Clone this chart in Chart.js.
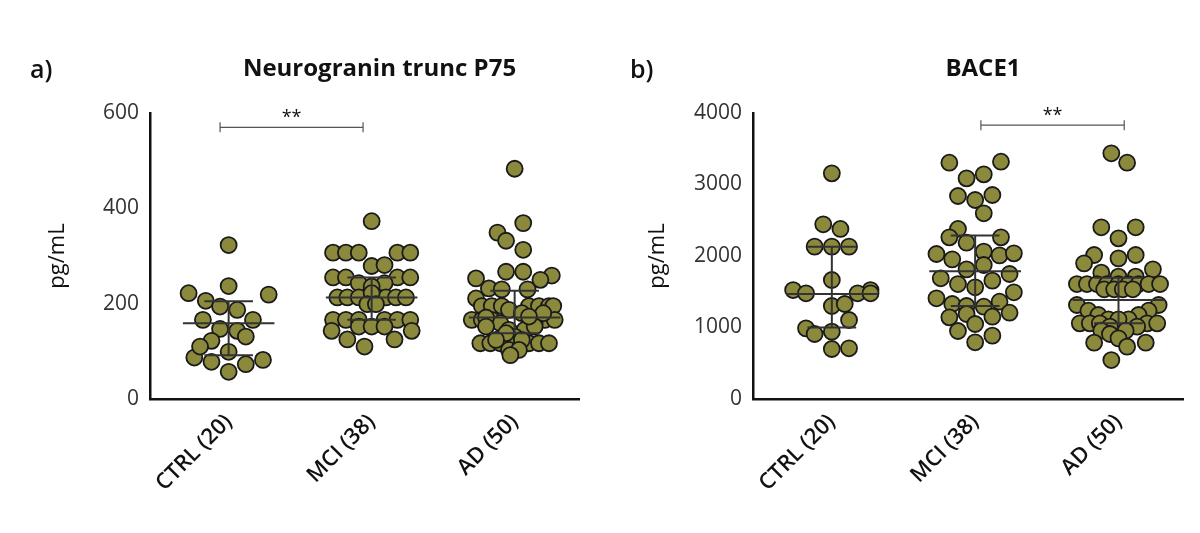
<!DOCTYPE html>
<html><head><meta charset="utf-8">
<script src="https://cdn.jsdelivr.net/npm/chart.js@4"></script>
<style>body{margin:0;background:#fff;width:1200px;height:533px;position:relative;overflow:hidden;font-family:"Open Sans",sans-serif}
.p{position:absolute;top:0;width:600px;height:533px}</style></head><body>
<div class="p" style="left:0"><canvas id="a"></canvas></div>
<div class="p" style="left:600px"><canvas id="b"></canvas></div>
<script>
const categories = ["CTRL (20)", "MCI (38)", "AD (50)"];
// Panel a: Neurogranin trunc P75 (pg/mL)
const aCtrlY  = [323,222,237,219,206,194,187,166,166,143,147,122,131,87,78,99,73,82,57,110];
const aCtrlDx = [0,-.28,0,.28,-.16,-.06,.06,.17,-.18,.06,-.06,-.12,.12,-.24,-.12,0,.12,.24,0,-.2];
const aMciY  = [373,307,307,307,307,307,279,281,255,255,255,255,243,243,236,213,213,213,213,213,213,222,199,199,166,166,166,166,166,166,152,152,152,143,143,125,125,110];
const aMciDx = [0,-.27,-.18,-.09,.18,.27,0,.09,-.27,-.18,.18,.27,-.09,.09,0,-.24,-.17,-.09,.1,.17,.24,0,-.03,.03,-.27,-.18,-.09,.09,.18,.27,-.09,0,.09,-.28,.28,-.17,.16,-.05];
const aAdY  = [483,369,349,332,313,267,267,259,253,250,232,230,230,211,195,195,195,195,195,195,195,187,180,166,166,166,166,166,159,159,145,145,131,117,117,117,117,117,117,124,103,103,92,171,180,152,138,152,173,124];
const aAdDx = [0,.06,-.12,-.06,.06,-.06,.06,.26,-.27,.18,-.18,.09,-.09,-.27,-.23,-.16,-.09,.1,.17,.24,.27,-.04,.05,-.3,-.23,-.16,.21,.28,-.1,.14,-.04,.07,0,-.24,-.17,-.1,.1,.17,.24,.05,-.04,.03,-.03,-.2,.2,-.2,-.06,.14,.1,-.13];
const aMedian = [159,213,171], aQ1 = [92,166,138], aQ3 = [205,255,227];
// Panel b: BACE1 (pg/mL)
const bCtrlY  = [3156,2443,2378,2131,2131,2131,1664,1524,1524,1478,1478,1478,1301,1329,1105,988,909,942,699,709];
const bCtrlDx = [0,-.06,.06,-.12,0,.12,0,-.27,.27,-.18,.18,.27,0,.09,.12,-.18,-.12,0,0,.12];
const bMciY  = [3305,3319,3086,3142,2839,2853,2783,2597,2378,2261,2261,2186,2061,2028,2009,2037,1953,1874,1813,1748,1688,1608,1655,1562,1492,1408,1361,1329,1301,1291,1142,1207,1189,1151,1049,951,886,793];
const bMciDx = [-.18,.18,-.06,.06,-.12,.12,0,.06,-.12,-.18,.18,-.06,.06,-.27,.17,.27,-.16,.06,-.06,.24,-.24,-.12,.12,0,.27,-.27,.17,-.16,-.06,.06,-.18,.24,-.06,.12,0,-.12,.12,0];
const bAdY  = [3436,3305,2401,2401,2247,2014,2014,1967,1897,1813,1767,1711,1711,1608,1608,1608,1608,1608,1608,1608,1608,1608,1534,1534,1534,1534,1315,1315,1235,1235,1175,1175,1114,1114,1114,1058,1058,1058,1058,1058,1012,1012,956,956,909,848,788,788,732,545];
const bAdDx = [-.05,.06,-.12,.12,0,-.17,.12,0,-.24,.24,-.12,0,.12,-.29,-.22,-.15,-.08,0,.07,.14,.21,.29,-.1,-.03,.03,.1,-.29,.28,-.21,.21,-.14,.14,-.07,.07,0,-.27,-.2,-.13,.2,.27,-.06,.13,-.12,.05,-.06,0,-.17,.19,.06,-.05];
const bMedian = [1470,1786,1385], bQ1 = [1000,1300,1058], bQ3 = [2130,2285,1697];

const pts = (c, ys, dxs) => ys.map((y,i)=>({x:c+dxs[i], y}));
const FILL='#8b8a3c';
function make(id, title, letter, sets, med, q1, q3, ymax, step, yw, pr, sig){
  const deco = {id:'deco', afterDatasetsDraw(ch){
    const {ctx, scales:{x,y}} = ch;
    ctx.save(); ctx.strokeStyle='#333'; ctx.lineWidth=2;
    for(let i=0;i<3;i++){
      const c=i+1;
      ctx.beginPath();
      ctx.moveTo(x.getPixelForValue(c-.32), y.getPixelForValue(med[i])); ctx.lineTo(x.getPixelForValue(c+.32), y.getPixelForValue(med[i]));
      ctx.moveTo(x.getPixelForValue(c), y.getPixelForValue(q1[i])); ctx.lineTo(x.getPixelForValue(c), y.getPixelForValue(q3[i]));
      for(const v of [q1[i],q3[i]]){ctx.moveTo(x.getPixelForValue(c-.17), y.getPixelForValue(v)); ctx.lineTo(x.getPixelForValue(c+.17), y.getPixelForValue(v));}
      ctx.stroke();
    }
    ctx.strokeStyle='#555'; ctx.lineWidth=1.2;
    const x1=x.getPixelForValue(sig[0]), x2=x.getPixelForValue(sig[1]), yy=y.getPixelForValue(sig[2]);
    ctx.beginPath(); ctx.moveTo(x1,yy); ctx.lineTo(x2,yy); ctx.moveTo(x1,yy-5); ctx.lineTo(x1,yy+5); ctx.moveTo(x2,yy-5); ctx.lineTo(x2,yy+5); ctx.stroke();
    ctx.fillStyle='#111'; ctx.font='18px "Open Sans"'; ctx.textAlign='center'; ctx.fillText('**',(x1+x2)/2,yy-4);
    ctx.font='bold 24px "Open Sans"'; ctx.fillText(title,(x.left+x.right)/2+15,76);
    ctx.textAlign='left'; ctx.font='600 25px "Open Sans"'; ctx.fillText(letter,30,78);
    ctx.translate(64,256); ctx.rotate(-Math.PI/2); ctx.textAlign='center'; ctx.font='500 22px "Open Sans"'; ctx.fillText('pg/mL',0,0);
    ctx.restore();
  }};
  new Chart(document.getElementById(id),{type:'scatter',
    data:{datasets:sets.map(s=>({data:s,pointRadius:8,pointHoverRadius:8,backgroundColor:FILL,borderColor:'#1a1a1a',borderWidth:1.8}))},
    options:{responsive:true,maintainAspectRatio:false,animation:false,
      layout:{padding:{top:113,right:pr,left:0,bottom:0}},
      plugins:{legend:{display:false},tooltip:{enabled:false}},
      scales:{
        x:{type:'linear',min:.45,max:3.45,grid:{display:false,drawTicks:true,tickLength:8,tickColor:'#111',tickWidth:2},border:{color:'#111',width:2.5},
          afterBuildTicks:s=>{s.ticks=[1,2,3].map(v=>({value:v}));},
          afterFit:s=>{s.height=134;},
          ticks:{callback:v=>categories[v-1],maxRotation:45,minRotation:45,color:'#111',padding:2,font:{size:22,weight:'600',family:'Open Sans'}}},
        y:{min:0,max:ymax,grid:{display:false,tickLength:8,tickColor:'#111',tickWidth:2},border:{color:'#111',width:2.5},
          afterFit:s=>{s.width=yw;},
          ticks:{stepSize:step,callback:v=>String(v),color:'#333',font:{size:21,family:'Open Sans'}}}
      }},
    plugins:[deco]});
}
make('a','Neurogranin trunc P75','a)',[pts(1,aCtrlY,aCtrlDx),pts(2,aMciY,aMciDx),pts(3,aAdY,aAdDx)],aMedian,aQ1,aQ3,600,200,150,21,[0.94,1.94,570]);
make('b','BACE1','b)',[pts(1,bCtrlY,bCtrlDx),pts(2,bMciY,bMciDx),pts(3,bAdY,bAdDx)],bMedian,bQ1,bQ3,4000,1000,153,17,[2.04,3.04,3830]);
</script></body></html>
